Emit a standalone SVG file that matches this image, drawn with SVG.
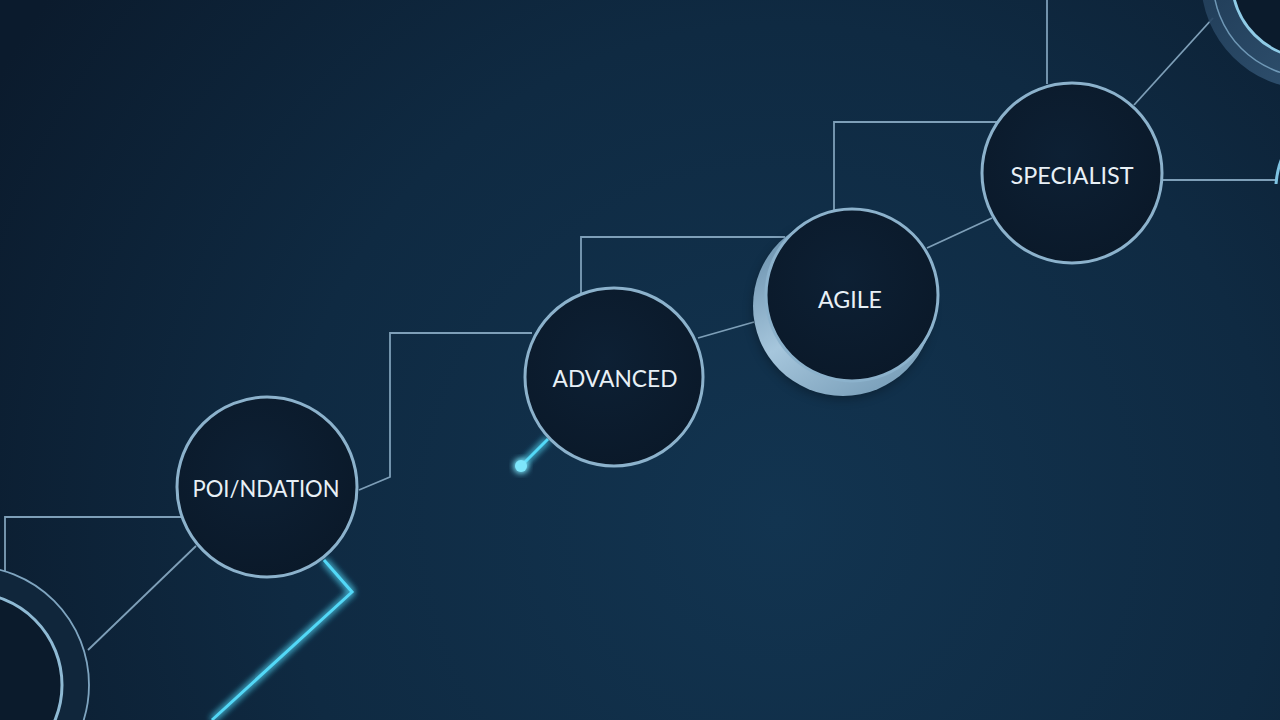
<svg xmlns="http://www.w3.org/2000/svg" width="1280" height="720" viewBox="0 0 1280 720">
  <defs>
    <radialGradient id="bg" cx="780" cy="520" r="900" gradientUnits="userSpaceOnUse">
      <stop offset="0" stop-color="#123450"/>
      <stop offset="0.55" stop-color="#0f2a42"/>
      <stop offset="1" stop-color="#0b1b2d"/>
    </radialGradient>
    <radialGradient id="nodeFill" cx="0.45" cy="0.4" r="0.7">
      <stop offset="0" stop-color="#0d2034"/>
      <stop offset="1" stop-color="#0a1828"/>
    </radialGradient>
    <linearGradient id="rim" x1="0" y1="0" x2="0.6" y2="1">
      <stop offset="0" stop-color="#5d85a3"/>
      <stop offset="0.6" stop-color="#a6c6dc"/>
      <stop offset="1" stop-color="#7ea3bd"/>
    </linearGradient>
    <linearGradient id="band" x1="0" y1="0" x2="1" y2="1">
      <stop offset="0" stop-color="#1b354f"/>
      <stop offset="1" stop-color="#3a5f80"/>
    </linearGradient>
    <filter id="glow" x="-50%" y="-50%" width="200%" height="200%">
      <feGaussianBlur stdDeviation="3.5" result="b"/>
      <feMerge><feMergeNode in="b"/><feMergeNode in="b"/><feMergeNode in="SourceGraphic"/></feMerge>
    </filter>
    <filter id="shadow" x="-30%" y="-30%" width="160%" height="160%">
      <feGaussianBlur stdDeviation="6"/>
    </filter>
  </defs>
  <style>
    .node { fill: url(#nodeFill); stroke: #8cb2cc; stroke-width: 3; }
    .conn { fill: none; stroke: #7e9fb8; stroke-width: 1.8; stroke-linejoin: miter; }
    .hot { fill: none; stroke: #52d8f7; stroke-width: 3; stroke-linejoin: miter; filter: url(#glow); }
    .label { font-family: "Lato", "Liberation Sans", sans-serif; font-size: 23px; fill: #e8f0f6; text-anchor: middle; }
  </style>

  <rect x="0" y="0" width="1280" height="720" fill="url(#bg)"/>

  <g id="connectors">
    <path class="conn" d="M181,517 H5 V572"/>
    <path class="conn" d="M88,650 L196,546"/>
    <path class="conn" d="M359,490 L390,477 V333 H532"/>
    <path class="conn" d="M581,296 V237 H785"/>
    <path class="conn" d="M698,338 L754,322"/>
    <path class="conn" d="M834,212 V122 H997"/>
    <path class="conn" d="M927,248 L992,218"/>
    <path class="conn" d="M1047,0 V84"/>
    <path class="conn" d="M1134,105 L1213,18"/>
    <path class="conn" d="M1163,180 H1276"/>
    <path class="hot" d="M324,560 L352,592 L212,720"/>
    <path class="hot" d="M548,439 L521,466"/>
    <circle cx="521" cy="466" r="6" fill="#7ee6fb" filter="url(#glow)"/>
  </g>

  <g id="node-bottom-left">
    <circle cx="-30" cy="685" r="119" fill="#10263b" stroke="#7fa5c0" stroke-width="1.8"/>
    <circle cx="-30" cy="685" r="92" fill="#0b1b2c" stroke="#8fbad4" stroke-width="3"/>
  </g>

  <g id="node-foundation">
    <circle class="node" cx="267" cy="487" r="90"/>
    <text class="label" x="266" y="497" textLength="147" lengthAdjust="spacingAndGlyphs">POI/NDATION</text>
  </g>

  <g id="node-advanced">
    <circle class="node" cx="614" cy="377" r="89"/>
    <text class="label" x="615" y="387" textLength="125" lengthAdjust="spacingAndGlyphs">ADVANCED</text>
  </g>

  <g id="node-agile">
    <circle cx="842" cy="310" r="88" fill="#000" opacity="0.35" filter="url(#shadow)"/>
    <circle cx="843" cy="306" r="90" fill="url(#rim)"/>
    <circle class="node" cx="852" cy="295" r="86"/>
    <text class="label" x="850" y="308" textLength="64" lengthAdjust="spacingAndGlyphs">AGILE</text>
  </g>

  <g id="node-specialist">
    <circle class="node" cx="1072" cy="173" r="90"/>
    <text class="label" x="1072" y="184" textLength="123" lengthAdjust="spacingAndGlyphs">SPECIALIST</text>
  </g>

  <g id="node-top-right">
    <circle cx="1310" cy="-20" r="109" fill="url(#band)" opacity="0.9"/>
    <circle cx="1310" cy="-20" r="97" fill="none" stroke="#6f98b6" stroke-width="1.5"/>
    <circle cx="1310" cy="-20" r="78" fill="#0b1b2c" stroke="#8fcbe6" stroke-width="3"/>
  </g>

  <g id="node-right-edge">
    <path d="M1276,184 Q1277,170 1282,158" fill="none" stroke="#7fc3e2" stroke-width="3"/>
  </g>
</svg>
